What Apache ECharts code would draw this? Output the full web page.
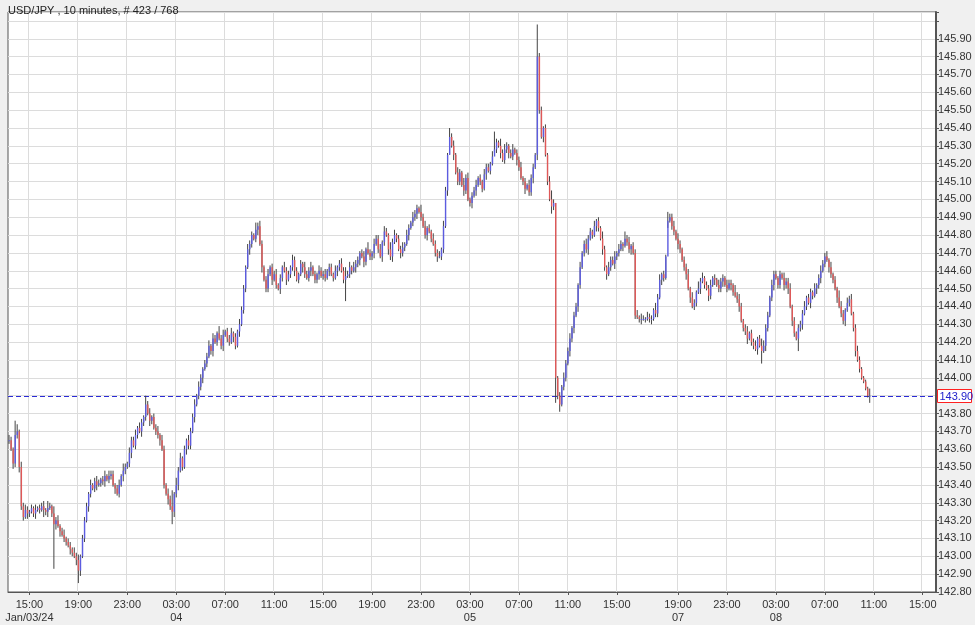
<!DOCTYPE html>
<html><head><meta charset="utf-8">
<script src="https://cdn.jsdelivr.net/npm/echarts@6/dist/echarts.min.js"></script>
<style>html,body{margin:0;padding:0;background:#f0f0f0}#c{width:975px;height:625px}</style>
</head><body><div id="c"></div>
<script>
// Closes in cents above 142.00, one per 10-minute bar (423 bars)
const closes = [
165,160,152,168,170,150,128,122,126,124,
125,127,124,126,127,126,128,126,125,127,128,124,118,120,
117,114,112,110,108,106,104,102,100,98,92,100,110,120,128,135,140,138,142,140,141,143,142,145,
143,145,146,140,138,135,140,145,148,150,152,158,165,162,168,172,170,175,178,185,180,176,178,172,
170,168,165,160,140,135,132,128,125,135,140,148,155,150,160,165,162,170,178,185,190,195,200,205,
208,212,218,215,222,220,225,222,218,224,226,222,220,225,223,218,226,230,238,250,262,272,275,280,278,283,285,275,262,255,250,258,262,255,
258,252,250,256,262,260,255,258,262,266,260,255,258,264,262,258,256,260,262,258,255,258,260,257,
258,256,260,262,258,256,260,262,264,260,255,257,258,262,260,262,264,266,270,268,265,272,270,268,
270,275,278,272,268,276,282,280,272,268,276,280,278,272,270,273,275,280,284,287,290,292,295,293,
290,285,280,284,282,278,275,270,268,268,272,285,305,325,335,330,325,315,310,315,308,305,312,300,
298,302,305,308,312,310,306,314,318,316,320,324,328,332,330,326,322,328,330,326,324,328,326,322,
318,312,310,306,308,304,312,318,325,380,350,335,340,325,310,300,296,298,200,190,185,195,200,208,
215,222,228,235,240,252,262,270,275,272,278,282,280,285,288,284,278,272,262,258,262,266,264,268,
270,272,275,274,278,276,272,274,270,235,234,233,233,233,233,234,233,233,238,236,245,255,258,256,
268,288,290,285,282,278,275,272,266,262,258,250,245,240,242,248,250,254,256,252,250,246,252,256,
255,252,250,254,256,252,250,253,252,248,246,244,240,232,228,226,222,225,220,218,216,222,218,215,
218,228,235,245,252,258,256,252,258,256,252,254,250,240,232,225,222,228,230,236,240,245,242,248,
246,250,252,256,260,264,268,266,262,258,255,250,245,240,236,232,238,242,244,236,228,215,210,205,200,198,194,190,190
];
// extra cents above max(open,close) and below min(open,close)
const highExtra = "3212413232121312231421323123122132312221312321231322123142132231321423122313213221423121322313212231321423122312132213221423212312231213221322121322312132231221312321231322123142132231321423122313213221423121322313212231321423122312132213221423212312231213221322121322312132231221312322131214213223132142312231321322142312132231321223132142312231213221322142321231223121322132212132231213223122131232231312143213231232";
const lowExtra  = "2131232213212312142312231312213213231213212312231221312132123122132313212231213213231213221312231212312123122132131221321231312213121321312231213212312231221312132123122132313212231213213231213221312231212312123122132131221321231312213121321312231213212312231221312132123122132313212231213213231213221312231212312123122132131221321231312213121321312231213212312231221312132123122132313212231213213231213221312231212312";
// [bar index, high (cents), low (cents)] for long wicks
const spikes = [[3,176,150],[22,128,93],[34,101,85],[67,190,176],[80,137,118],[165,262,243],[216,340,325],[238,338,326],[259,398,322],[266,305,292],[268,298,186],[270,192,181],[323,293,284],[369,222,208],[387,230,215],[400,270,262],[422,194,186]];
const tickIdx  = [10,34,58,82,106,130,154,178,202,226,250,274,298,328,352,376,400,424,448];
const tickText = ['15:00\nJan/03/24','19:00','23:00','03:00\n04','07:00','11:00','15:00','19:00','23:00','03:00\n05','07:00','11:00','15:00','19:00\n07','23:00','03:00\n08','07:00','11:00','15:00'];
const slotCount = 455;
const lastPrice = 143.90;

const cats = []; for (let i = 0; i < slotCount; i++) cats.push(String(i));
const tickMap = {}; tickIdx.forEach((t, k) => tickMap[t] = tickText[k]);
const ohlc = closes.map((c, i) => {
  const o = i === 0 ? c : closes[i - 1];
  let h = Math.max(o, c) + (+highExtra[i] || 1);
  let l = Math.min(o, c) - (+lowExtra[i] || 1);
  return [i, (142 + o / 100), (142 + c / 100), (142 + l / 100), (142 + h / 100)];
});
spikes.forEach(([i, h, l]) => { ohlc[i][4] = 142 + h / 100; ohlc[i][3] = 142 + l / 100; });
const lastIdx = ohlc.length - 1;

const chart = echarts.init(document.getElementById('c'));
chart.setOption({
  animation: false,
  backgroundColor: '#f0f0f0',
  title: { text: 'USD/JPY , 10 minutes, # 423 / 768', left: 3, top: 0,
    textStyle: { fontSize: 11, fontWeight: 'normal', color: '#222', fontFamily: 'Liberation Sans' } },
  grid: { left: 8, right: 39, top: 12, bottom: 33, show: true, backgroundColor: '#fff', borderColor: '#555', borderWidth: 1 },
  xAxis: {
    type: 'category', data: cats, boundaryGap: true,
    axisLine: { lineStyle: { color: '#555' } },
    axisTick: { show: true, interval: (i) => tickMap[i] !== undefined, alignWithLabel: true, length: 3, lineStyle: { color: '#555' } },
    axisLabel: { interval: (i) => tickMap[i] !== undefined, formatter: (v, i) => tickMap[i] || '',
      fontSize: 11, color: '#333', fontFamily: 'Liberation Sans', lineHeight: 13, margin: 6 },
    splitLine: { show: true, interval: (i) => tickMap[i] !== undefined, lineStyle: { color: '#dcdcdc' } }
  },
  yAxis: {
    type: 'value', position: 'right', min: 142.8, max: 146.05, interval: 0.1, scale: true,
    axisLine: { show: true, lineStyle: { color: '#555', width: 2 } },
    axisTick: { show: true, length: 3, lineStyle: { color: '#555' } },
    axisLabel: { formatter: (v) => v > 145.95 ? '' : v.toFixed(2), fontSize: 11, color: '#333', fontFamily: 'Liberation Sans', margin: 2 },
    splitLine: { lineStyle: { color: '#dcdcdc' } }
  },
  series: [{
    type: 'custom',
    data: ohlc,
    encode: { x: 0, y: [1, 2, 3, 4] },
    renderItem: (params, api) => {
      const x = api.value(0);
      const o = api.value(1), c = api.value(2), l = api.value(3), h = api.value(4);
      const pH = api.coord([x, h]), pL = api.coord([x, l]);
      const pO = api.coord([x, o]), pC = api.coord([x, c]);
      const up = c >= o;
      const top = Math.min(pO[1], pC[1]), bh = Math.max(Math.abs(pO[1] - pC[1]), 1);
      const children = [
        { type: 'line', shape: { x1: pH[0], y1: pH[1], x2: pL[0], y2: pL[1] }, style: { stroke: '#444', lineWidth: 1 } },
        { type: 'rect', shape: { x: pH[0] - 0.6, y: top, width: 1.4, height: bh }, style: { fill: up ? '#5c5ce0' : '#e05858' } }
      ];
      if (params.dataIndex === lastIdx) {
        const cs = params.coordSys;
        const yy = Math.round(api.coord([x, lastPrice])[1]) + 0.5;
        const bx = cs.x + cs.width + 1.5;
        children.unshift({ type: 'line', shape: { x1: cs.x, y1: yy, x2: cs.x + cs.width, y2: yy },
          style: { stroke: '#2b2bd6', lineWidth: 1, lineDash: [5, 3] }, z2: -1 });
        children.push({ type: 'rect', shape: { x: bx, y: yy - 7, width: 34, height: 13 },
          style: { fill: '#fff', stroke: '#ff2020', lineWidth: 1 } });
        children.push({ type: 'text', x: bx + 2, y: yy,
          style: { text: lastPrice.toFixed(2), fill: '#2222cc', font: '11px "Liberation Sans"', verticalAlign: 'middle' } });
      }
      return { type: 'group', children };
    },
    clip: false
  }]
});
</script></body></html>
